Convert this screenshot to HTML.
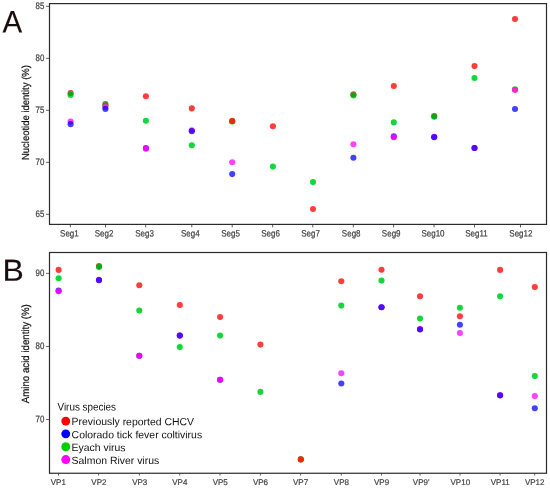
<!DOCTYPE html>
<html><head><meta charset="utf-8"><title>Figure</title>
<style>
html,body{margin:0;padding:0;background:#fff;}
body{width:550px;height:489px;overflow:hidden;}
svg{display:block;text-rendering:geometricPrecision;font-family:"Liberation Sans",Arial,sans-serif;}
.tk{font-size:7.9px;fill:#444;stroke:#444;stroke-width:0.2px;}
.ax{font-size:9.5px;fill:#111;stroke:#111;stroke-width:0.2px;}
.ax2{font-size:9.7px;fill:#111;stroke:#111;stroke-width:0.2px;}
.pl{font-size:29.5px;fill:#1a0d0d;stroke:#1a0d0d;stroke-width:0.12px;}
.lg{font-size:10.45px;fill:#111;}
.lt{font-size:9.9px;fill:#111;}
</style></head><body>
<svg width="550" height="489" viewBox="0 0 550 489">
<rect x="0" y="0" width="550" height="489" fill="#ffffff"/>

<rect x="49.5" y="3.6" width="497" height="220.8" fill="none" stroke="#2b2b2b" stroke-width="1.2"/>
<rect x="49.5" y="252.5" width="497" height="220.75" fill="none" stroke="#2b2b2b" stroke-width="1.2"/>
<line x1="46.1" x2="49" y1="6.35" y2="6.35" stroke="#333" stroke-width="0.75"/>
<text class="tk" transform="translate(44.3,9.0) scale(1,1.2) rotate(0.03)" text-anchor="end">85</text>
<line x1="46.1" x2="49" y1="58.35" y2="58.35" stroke="#333" stroke-width="0.75"/>
<text class="tk" transform="translate(44.3,61.0) scale(1,1.2) rotate(0.03)" text-anchor="end">80</text>
<line x1="46.1" x2="49" y1="110.35" y2="110.35" stroke="#333" stroke-width="0.75"/>
<text class="tk" transform="translate(44.3,113.0) scale(1,1.2) rotate(0.03)" text-anchor="end">75</text>
<line x1="46.1" x2="49" y1="162.35" y2="162.35" stroke="#333" stroke-width="0.75"/>
<text class="tk" transform="translate(44.3,165.0) scale(1,1.2) rotate(0.03)" text-anchor="end">70</text>
<line x1="46.1" x2="49" y1="214.35" y2="214.35" stroke="#333" stroke-width="0.75"/>
<text class="tk" transform="translate(44.3,217.0) scale(1,1.2) rotate(0.03)" text-anchor="end">65</text>
<line x1="46.1" x2="49" y1="273.35" y2="273.35" stroke="#333" stroke-width="0.75"/>
<text class="tk" transform="translate(44.3,276.0) scale(1,1.2) rotate(0.03)" text-anchor="end">90</text>
<line x1="46.1" x2="49" y1="346.45" y2="346.45" stroke="#333" stroke-width="0.75"/>
<text class="tk" transform="translate(44.3,349.1) scale(1,1.2) rotate(0.03)" text-anchor="end">80</text>
<line x1="46.1" x2="49" y1="419.55" y2="419.55" stroke="#333" stroke-width="0.75"/>
<text class="tk" transform="translate(44.3,422.2) scale(1,1.2) rotate(0.03)" text-anchor="end">70</text>
<line x1="70.4" x2="70.4" y1="225" y2="227.4" stroke="#333" stroke-width="0.8"/>
<text class="tk" style="font-size:8px" transform="translate(69.4,236.4) scale(1,1.15) rotate(0.03)" text-anchor="middle">Seg1</text>
<line x1="105.5" x2="105.5" y1="225" y2="227.4" stroke="#333" stroke-width="0.8"/>
<text class="tk" style="font-size:8px" transform="translate(104.1,236.4) scale(1,1.15) rotate(0.03)" text-anchor="middle">Seg2</text>
<line x1="145.7" x2="145.7" y1="225" y2="227.4" stroke="#333" stroke-width="0.8"/>
<text class="tk" style="font-size:8px" transform="translate(144.5,236.4) scale(1,1.15) rotate(0.03)" text-anchor="middle">Seg3</text>
<line x1="191.8" x2="191.8" y1="225" y2="227.4" stroke="#333" stroke-width="0.8"/>
<text class="tk" style="font-size:8px" transform="translate(190.3,236.4) scale(1,1.15) rotate(0.03)" text-anchor="middle">Seg4</text>
<line x1="232.2" x2="232.2" y1="225" y2="227.4" stroke="#333" stroke-width="0.8"/>
<text class="tk" style="font-size:8px" transform="translate(230.6,236.4) scale(1,1.15) rotate(0.03)" text-anchor="middle">Seg5</text>
<line x1="272.7" x2="272.7" y1="225" y2="227.4" stroke="#333" stroke-width="0.8"/>
<text class="tk" style="font-size:8px" transform="translate(270.5,236.4) scale(1,1.15) rotate(0.03)" text-anchor="middle">Seg6</text>
<line x1="312.8" x2="312.8" y1="225" y2="227.4" stroke="#333" stroke-width="0.8"/>
<text class="tk" style="font-size:8px" transform="translate(310.6,236.4) scale(1,1.15) rotate(0.03)" text-anchor="middle">Seg7</text>
<line x1="353.3" x2="353.3" y1="225" y2="227.4" stroke="#333" stroke-width="0.8"/>
<text class="tk" style="font-size:8px" transform="translate(351.2,236.4) scale(1,1.15) rotate(0.03)" text-anchor="middle">Seg8</text>
<line x1="393.6" x2="393.6" y1="225" y2="227.4" stroke="#333" stroke-width="0.8"/>
<text class="tk" style="font-size:8px" transform="translate(391.2,236.4) scale(1,1.15) rotate(0.03)" text-anchor="middle">Seg9</text>
<line x1="434.0" x2="434.0" y1="225" y2="227.4" stroke="#333" stroke-width="0.8"/>
<text class="tk" style="font-size:8px" transform="translate(433.0,236.4) scale(1,1.15) rotate(0.03)" text-anchor="middle">Seg10</text>
<line x1="474.5" x2="474.5" y1="225" y2="227.4" stroke="#333" stroke-width="0.8"/>
<text class="tk" style="font-size:8px" transform="translate(476.5,236.4) scale(1,1.15) rotate(0.03)" text-anchor="middle">Seg11</text>
<line x1="520.5" x2="520.5" y1="225" y2="227.4" stroke="#333" stroke-width="0.8"/>
<text class="tk" style="font-size:8px" transform="translate(520.9,236.4) scale(1,1.15) rotate(0.03)" text-anchor="middle">Seg12</text>
<line x1="58.5" x2="58.5" y1="473.8" y2="475.5" stroke="#333" stroke-width="0.8"/>
<text class="tk" style="font-size:8px" transform="translate(58.3,485.1) scale(1,1.03) rotate(0.03)" text-anchor="middle">VP1</text>
<line x1="98.6" x2="98.6" y1="473.8" y2="475.5" stroke="#333" stroke-width="0.8"/>
<text class="tk" style="font-size:8px" transform="translate(98.9,485.1) scale(1,1.03) rotate(0.03)" text-anchor="middle">VP2</text>
<line x1="139.4" x2="139.4" y1="473.8" y2="475.5" stroke="#333" stroke-width="0.8"/>
<text class="tk" style="font-size:8px" transform="translate(139.7,485.1) scale(1,1.03) rotate(0.03)" text-anchor="middle">VP3</text>
<line x1="179.7" x2="179.7" y1="473.8" y2="475.5" stroke="#333" stroke-width="0.8"/>
<text class="tk" style="font-size:8px" transform="translate(179.8,485.1) scale(1,1.03) rotate(0.03)" text-anchor="middle">VP4</text>
<line x1="220.0" x2="220.0" y1="473.8" y2="475.5" stroke="#333" stroke-width="0.8"/>
<text class="tk" style="font-size:8px" transform="translate(220.2,485.1) scale(1,1.03) rotate(0.03)" text-anchor="middle">VP5</text>
<line x1="260.4" x2="260.4" y1="473.8" y2="475.5" stroke="#333" stroke-width="0.8"/>
<text class="tk" style="font-size:8px" transform="translate(260.5,485.1) scale(1,1.03) rotate(0.03)" text-anchor="middle">VP6</text>
<line x1="300.6" x2="300.6" y1="473.8" y2="475.5" stroke="#333" stroke-width="0.8"/>
<text class="tk" style="font-size:8px" transform="translate(300.6,485.1) scale(1,1.03) rotate(0.03)" text-anchor="middle">VP7</text>
<line x1="341.3" x2="341.3" y1="473.8" y2="475.5" stroke="#333" stroke-width="0.8"/>
<text class="tk" style="font-size:8px" transform="translate(341.4,485.1) scale(1,1.03) rotate(0.03)" text-anchor="middle">VP8</text>
<line x1="381.5" x2="381.5" y1="473.8" y2="475.5" stroke="#333" stroke-width="0.8"/>
<text class="tk" style="font-size:8px" transform="translate(381.6,485.1) scale(1,1.03) rotate(0.03)" text-anchor="middle">VP9</text>
<line x1="420.0" x2="420.0" y1="473.8" y2="475.5" stroke="#333" stroke-width="0.8"/>
<text class="tk" style="font-size:8px" transform="translate(421.2,485.1) scale(1,1.03) rotate(0.03)" text-anchor="middle">VP9'</text>
<line x1="460.0" x2="460.0" y1="473.8" y2="475.5" stroke="#333" stroke-width="0.8"/>
<text class="tk" style="font-size:8px" transform="translate(460.3,485.1) scale(1,1.03) rotate(0.03)" text-anchor="middle">VP10</text>
<line x1="500.1" x2="500.1" y1="473.8" y2="475.5" stroke="#333" stroke-width="0.8"/>
<text class="tk" style="font-size:8px" transform="translate(500.2,485.1) scale(1,1.03) rotate(0.03)" text-anchor="middle">VP11</text>
<line x1="534.7" x2="534.7" y1="473.8" y2="475.5" stroke="#333" stroke-width="0.8"/>
<text class="tk" style="font-size:8px" transform="translate(534.7,485.1) scale(1,1.03) rotate(0.03)" text-anchor="middle">VP12</text>
<text class="ax" transform="translate(28.5,112.6) rotate(-90) scale(1,1.08)" text-anchor="middle">Nucleotide identity (%)</text>
<text class="ax2" transform="translate(28.5,353.7) rotate(-90) scale(1,1.08)" text-anchor="middle">Amino acid identity (%)</text>
<text class="pl" transform="translate(2.4,32.4) scale(1,1.06) rotate(0.03)">A</text>
<text class="pl" transform="translate(2.6,280.7) scale(1.08,1.03) rotate(0.03)">B</text>
<circle cx="70.60" cy="93.10" r="3.05" fill="rgba(255,0,0,0.76)"/>
<circle cx="70.60" cy="94.90" r="3.05" fill="rgba(0,212,42,0.92)"/>
<clipPath id="cp1"><circle cx="70.60" cy="93.10" r="3.05"/></clipPath>
<circle cx="70.60" cy="94.90" r="3.05" fill="rgb(14,166,24)" clip-path="url(#cp1)"/>
<circle cx="70.60" cy="121.60" r="3.05" fill="rgba(255,0,255,0.74)"/>
<circle cx="70.60" cy="124.30" r="3.05" fill="rgba(0,0,255,0.74)"/>
<clipPath id="cp2"><circle cx="70.60" cy="121.60" r="3.05"/></clipPath>
<circle cx="70.60" cy="124.30" r="3.05" fill="rgb(84,10,250)" clip-path="url(#cp2)"/>
<circle cx="105.40" cy="104.10" r="3.05" fill="rgba(255,0,0,0.76)"/>
<circle cx="105.40" cy="105.20" r="3.05" fill="rgba(0,212,42,0.92)"/>
<clipPath id="cp3"><circle cx="105.40" cy="104.10" r="3.05"/></clipPath>
<circle cx="105.40" cy="105.20" r="3.05" fill="rgb(14,166,24)" clip-path="url(#cp3)"/>
<circle cx="105.40" cy="107.00" r="3.05" fill="rgba(255,0,255,0.74)"/>
<clipPath id="cp4"><circle cx="105.40" cy="105.20" r="3.05"/></clipPath>
<circle cx="105.40" cy="107.00" r="3.05" fill="rgb(236,46,196)" clip-path="url(#cp4)"/>
<circle cx="105.40" cy="109.00" r="3.05" fill="rgba(0,0,255,0.74)"/>
<clipPath id="cp5"><circle cx="105.40" cy="107.00" r="3.05"/></clipPath>
<circle cx="105.40" cy="109.00" r="3.05" fill="rgb(84,10,250)" clip-path="url(#cp5)"/>
<circle cx="145.90" cy="96.30" r="3.05" fill="rgba(255,0,0,0.76)"/>
<circle cx="145.90" cy="120.70" r="3.05" fill="rgba(0,212,42,0.92)"/>
<circle cx="145.90" cy="148.00" r="3.05" fill="rgba(0,0,255,0.74)"/>
<circle cx="145.90" cy="148.70" r="3.05" fill="rgba(255,0,255,0.9)"/>
<circle cx="191.80" cy="108.40" r="3.05" fill="rgba(255,0,0,0.76)"/>
<circle cx="191.80" cy="130.20" r="3.05" fill="rgba(255,0,255,0.74)"/>
<circle cx="191.80" cy="131.20" r="3.05" fill="rgba(0,0,255,0.74)"/>
<clipPath id="cp6"><circle cx="191.80" cy="130.20" r="3.05"/></clipPath>
<circle cx="191.80" cy="131.20" r="3.05" fill="rgb(84,10,250)" clip-path="url(#cp6)"/>
<circle cx="191.80" cy="145.30" r="3.05" fill="rgba(0,212,42,0.92)"/>
<circle cx="232.20" cy="121.60" r="3.05" fill="rgba(0,212,42,0.92)"/>
<circle cx="232.20" cy="120.90" r="3.05" fill="rgba(255,0,0,0.76)"/>
<clipPath id="cp7"><circle cx="232.20" cy="121.60" r="3.05"/></clipPath>
<circle cx="232.20" cy="120.90" r="3.05" fill="rgb(232,44,8)" clip-path="url(#cp7)"/>
<circle cx="232.20" cy="162.30" r="3.05" fill="rgba(255,0,255,0.74)"/>
<circle cx="232.20" cy="174.10" r="3.05" fill="rgba(0,0,255,0.74)"/>
<circle cx="272.90" cy="126.20" r="3.05" fill="rgba(255,0,0,0.76)"/>
<circle cx="272.90" cy="166.60" r="3.05" fill="rgba(0,212,42,0.92)"/>
<circle cx="313.00" cy="182.10" r="3.05" fill="rgba(0,212,42,0.92)"/>
<circle cx="313.00" cy="209.00" r="3.05" fill="rgba(255,0,0,0.76)"/>
<circle cx="353.40" cy="94.30" r="3.05" fill="rgba(255,0,0,0.76)"/>
<circle cx="353.40" cy="95.50" r="3.05" fill="rgba(0,212,42,0.92)"/>
<clipPath id="cp8"><circle cx="353.40" cy="94.30" r="3.05"/></clipPath>
<circle cx="353.40" cy="95.50" r="3.05" fill="rgb(14,166,24)" clip-path="url(#cp8)"/>
<circle cx="353.40" cy="144.20" r="3.05" fill="rgba(255,0,255,0.74)"/>
<circle cx="353.40" cy="157.70" r="3.05" fill="rgba(0,0,255,0.74)"/>
<circle cx="393.80" cy="86.00" r="3.05" fill="rgba(255,0,0,0.76)"/>
<circle cx="393.80" cy="122.40" r="3.05" fill="rgba(0,212,42,0.92)"/>
<circle cx="393.80" cy="136.40" r="3.05" fill="rgba(0,0,255,0.74)"/>
<circle cx="393.80" cy="137.20" r="3.05" fill="rgba(255,0,255,0.9)"/>
<circle cx="434.20" cy="116.10" r="3.05" fill="rgba(255,0,0,0.76)"/>
<circle cx="434.20" cy="116.80" r="3.05" fill="rgba(0,212,42,0.92)"/>
<clipPath id="cp9"><circle cx="434.20" cy="116.10" r="3.05"/></clipPath>
<circle cx="434.20" cy="116.80" r="3.05" fill="rgb(14,166,24)" clip-path="url(#cp9)"/>
<circle cx="434.20" cy="136.70" r="3.05" fill="rgba(255,0,255,0.74)"/>
<circle cx="434.20" cy="137.30" r="3.05" fill="rgba(0,0,255,0.74)"/>
<clipPath id="cp10"><circle cx="434.20" cy="136.70" r="3.05"/></clipPath>
<circle cx="434.20" cy="137.30" r="3.05" fill="rgb(84,10,250)" clip-path="url(#cp10)"/>
<circle cx="474.50" cy="66.10" r="3.05" fill="rgba(255,0,0,0.76)"/>
<circle cx="474.50" cy="78.00" r="3.05" fill="rgba(0,212,42,0.92)"/>
<circle cx="474.50" cy="148.00" r="3.05" fill="rgba(255,0,255,0.74)"/>
<circle cx="474.50" cy="148.00" r="3.05" fill="rgba(0,0,255,0.74)"/>
<clipPath id="cp11"><circle cx="474.50" cy="148.00" r="3.05"/></clipPath>
<circle cx="474.50" cy="148.00" r="3.05" fill="rgb(84,10,250)" clip-path="url(#cp11)"/>
<circle cx="515.00" cy="19.00" r="3.05" fill="rgba(255,0,0,0.76)"/>
<circle cx="515.00" cy="89.30" r="3.05" fill="rgba(0,212,42,0.92)"/>
<circle cx="515.00" cy="90.10" r="3.05" fill="rgba(255,0,255,0.74)"/>
<clipPath id="cp12"><circle cx="515.00" cy="89.30" r="3.05"/></clipPath>
<circle cx="515.00" cy="90.10" r="3.05" fill="rgb(236,46,196)" clip-path="url(#cp12)"/>
<circle cx="515.00" cy="109.00" r="3.05" fill="rgba(0,0,255,0.74)"/>
<circle cx="58.60" cy="269.90" r="3.05" fill="rgba(255,0,0,0.76)"/>
<circle cx="58.60" cy="278.20" r="3.05" fill="rgba(0,212,42,0.92)"/>
<circle cx="58.60" cy="290.60" r="3.05" fill="rgba(0,0,255,0.74)"/>
<circle cx="58.60" cy="291.30" r="3.05" fill="rgba(255,0,255,0.9)"/>
<circle cx="99.00" cy="266.10" r="3.05" fill="rgba(255,0,0,0.76)"/>
<circle cx="99.00" cy="267.10" r="3.05" fill="rgba(0,212,42,0.92)"/>
<clipPath id="cp13"><circle cx="99.00" cy="266.10" r="3.05"/></clipPath>
<circle cx="99.00" cy="267.10" r="3.05" fill="rgb(14,166,24)" clip-path="url(#cp13)"/>
<circle cx="99.00" cy="279.80" r="3.05" fill="rgba(255,0,255,0.74)"/>
<circle cx="99.00" cy="280.30" r="3.05" fill="rgba(0,0,255,0.74)"/>
<clipPath id="cp14"><circle cx="99.00" cy="279.80" r="3.05"/></clipPath>
<circle cx="99.00" cy="280.30" r="3.05" fill="rgb(84,10,250)" clip-path="url(#cp14)"/>
<circle cx="139.30" cy="285.20" r="3.05" fill="rgba(255,0,0,0.76)"/>
<circle cx="139.30" cy="310.60" r="3.05" fill="rgba(0,212,42,0.92)"/>
<circle cx="139.30" cy="355.70" r="3.05" fill="rgba(0,0,255,0.74)"/>
<circle cx="139.30" cy="355.70" r="3.05" fill="rgba(255,0,255,0.9)"/>
<circle cx="179.80" cy="305.00" r="3.05" fill="rgba(255,0,0,0.76)"/>
<circle cx="179.80" cy="335.60" r="3.05" fill="rgba(255,0,255,0.74)"/>
<circle cx="179.80" cy="335.60" r="3.05" fill="rgba(0,0,255,0.74)"/>
<clipPath id="cp15"><circle cx="179.80" cy="335.60" r="3.05"/></clipPath>
<circle cx="179.80" cy="335.60" r="3.05" fill="rgb(84,10,250)" clip-path="url(#cp15)"/>
<circle cx="179.80" cy="347.10" r="3.05" fill="rgba(0,212,42,0.92)"/>
<circle cx="220.10" cy="317.10" r="3.05" fill="rgba(255,0,0,0.76)"/>
<circle cx="220.10" cy="335.60" r="3.05" fill="rgba(0,212,42,0.92)"/>
<circle cx="220.10" cy="379.80" r="3.05" fill="rgba(0,0,255,0.74)"/>
<circle cx="220.10" cy="379.80" r="3.05" fill="rgba(255,0,255,0.9)"/>
<circle cx="260.40" cy="344.60" r="3.05" fill="rgba(255,0,0,0.76)"/>
<circle cx="260.40" cy="391.90" r="3.05" fill="rgba(0,212,42,0.92)"/>
<circle cx="300.80" cy="459.40" r="3.05" fill="rgba(0,212,42,0.92)"/>
<circle cx="300.80" cy="459.40" r="3.05" fill="rgba(255,0,0,0.76)"/>
<clipPath id="cp16"><circle cx="300.80" cy="459.40" r="3.05"/></clipPath>
<circle cx="300.80" cy="459.40" r="3.05" fill="rgb(232,44,8)" clip-path="url(#cp16)"/>
<circle cx="341.30" cy="281.20" r="3.05" fill="rgba(255,0,0,0.76)"/>
<circle cx="341.30" cy="305.60" r="3.05" fill="rgba(0,212,42,0.92)"/>
<circle cx="341.30" cy="373.30" r="3.05" fill="rgba(255,0,255,0.74)"/>
<circle cx="341.30" cy="383.50" r="3.05" fill="rgba(0,0,255,0.74)"/>
<circle cx="381.50" cy="269.80" r="3.05" fill="rgba(255,0,0,0.76)"/>
<circle cx="381.50" cy="280.60" r="3.05" fill="rgba(0,212,42,0.92)"/>
<circle cx="381.50" cy="307.20" r="3.05" fill="rgba(255,0,255,0.74)"/>
<circle cx="381.50" cy="307.20" r="3.05" fill="rgba(0,0,255,0.74)"/>
<clipPath id="cp17"><circle cx="381.50" cy="307.20" r="3.05"/></clipPath>
<circle cx="381.50" cy="307.20" r="3.05" fill="rgb(84,10,250)" clip-path="url(#cp17)"/>
<circle cx="420.00" cy="296.30" r="3.05" fill="rgba(255,0,0,0.76)"/>
<circle cx="420.00" cy="318.50" r="3.05" fill="rgba(0,212,42,0.92)"/>
<circle cx="420.00" cy="329.10" r="3.05" fill="rgba(255,0,255,0.74)"/>
<circle cx="420.00" cy="329.50" r="3.05" fill="rgba(0,0,255,0.74)"/>
<clipPath id="cp18"><circle cx="420.00" cy="329.10" r="3.05"/></clipPath>
<circle cx="420.00" cy="329.50" r="3.05" fill="rgb(84,10,250)" clip-path="url(#cp18)"/>
<circle cx="459.90" cy="307.70" r="3.05" fill="rgba(0,212,42,0.92)"/>
<circle cx="459.90" cy="316.30" r="3.05" fill="rgba(255,0,0,0.76)"/>
<circle cx="459.90" cy="324.80" r="3.05" fill="rgba(0,0,255,0.74)"/>
<circle cx="459.90" cy="333.10" r="3.05" fill="rgba(255,0,255,0.74)"/>
<circle cx="500.10" cy="269.90" r="3.05" fill="rgba(255,0,0,0.76)"/>
<circle cx="500.10" cy="296.30" r="3.05" fill="rgba(0,212,42,0.92)"/>
<circle cx="500.10" cy="395.10" r="3.05" fill="rgba(255,0,255,0.74)"/>
<circle cx="500.10" cy="395.50" r="3.05" fill="rgba(0,0,255,0.74)"/>
<clipPath id="cp19"><circle cx="500.10" cy="395.10" r="3.05"/></clipPath>
<circle cx="500.10" cy="395.50" r="3.05" fill="rgb(84,10,250)" clip-path="url(#cp19)"/>
<circle cx="534.80" cy="287.10" r="3.05" fill="rgba(255,0,0,0.76)"/>
<circle cx="534.80" cy="376.10" r="3.05" fill="rgba(0,212,42,0.92)"/>
<circle cx="534.80" cy="396.10" r="3.05" fill="rgba(255,0,255,0.74)"/>
<circle cx="534.80" cy="408.20" r="3.05" fill="rgba(0,0,255,0.74)"/>
<text class="lt" transform="translate(57.5,410.4) scale(1,1.1) rotate(0.03)">Virus species</text>
<circle cx="65.75" cy="421.10" r="4.45" fill="#ff0000"/>
<text class="lg" transform="translate(71.6,425.1) rotate(0.03)">Previously reported CHCV</text>
<circle cx="65.75" cy="433.85" r="4.45" fill="#0000ff"/>
<text class="lg" transform="translate(71.6,438.2) rotate(0.03)">Colorado tick fever coltivirus</text>
<circle cx="65.75" cy="446.75" r="4.45" fill="#00cc00"/>
<text class="lg" transform="translate(71.6,451.1) rotate(0.03)">Eyach virus</text>
<circle cx="65.75" cy="459.55" r="4.45" fill="#ff00ff"/>
<text class="lg" transform="translate(71.6,463.9) rotate(0.03)">Salmon River virus</text>
</svg>
</body></html>
